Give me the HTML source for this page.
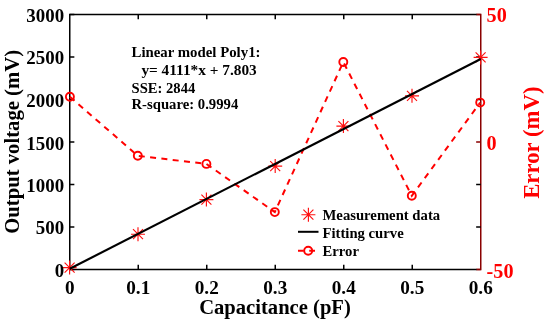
<!DOCTYPE html>
<html><head><meta charset="utf-8"><style>
html,body{margin:0;padding:0;background:#fff;}
body{width:550px;height:328px;overflow:hidden;}
svg{display:block;}
</style></head><body>
<svg width="550" height="328" viewBox="0 0 550 328">
<rect width="550" height="328" fill="#fff"/>
<path d="M480.75,270.15V13.85" stroke="#8a0000" stroke-width="1.5" fill="none"/>
<path d="M138.25,269.40V264.80M138.25,14.60V19.20M206.75,269.40V264.80M206.75,14.60V19.20M275.25,269.40V264.80M275.25,14.60V19.20M343.75,269.40V264.80M343.75,14.60V19.20M412.25,269.40V264.80M412.25,14.60V19.20M69.75,269.40H74.35M69.75,226.93H74.35M480.75,226.93H476.15M69.75,184.47H74.35M480.75,184.47H476.15M69.75,142.00H74.35M69.75,99.53H74.35M480.75,99.53H476.15M69.75,57.07H74.35M480.75,57.07H476.15M69.75,14.60H74.35" stroke="#000" stroke-width="1.5" fill="none"/>
<path d="M480.75,269.40H476.15M480.75,142.00H476.15M480.75,14.60H476.15" stroke="#8a0000" stroke-width="1.5" fill="none"/>
<path d="M476.75,14.60H69.75V269.40H476.75" stroke="#000" stroke-width="1.5" fill="none"/>
<path d="M476.75,14.60H480.00M476.75,269.40H480.00" stroke="#8a0000" stroke-width="1.5" fill="none"/>
<polyline points="69.90,96.80 137.80,155.80 206.40,163.90 274.80,212.10 343.30,62.00 411.80,195.80 480.20,102.60" fill="none" stroke="#ff0000" stroke-width="2" stroke-dasharray="6 5.37" stroke-dashoffset="0"/>
<circle cx="69.90" cy="96.80" r="4.0" fill="none" stroke="#ff0000" stroke-width="1.9"/>
<circle cx="137.80" cy="155.80" r="4.0" fill="none" stroke="#ff0000" stroke-width="1.9"/>
<circle cx="206.40" cy="163.90" r="4.0" fill="none" stroke="#ff0000" stroke-width="1.9"/>
<circle cx="274.80" cy="212.10" r="4.0" fill="none" stroke="#ff0000" stroke-width="1.9"/>
<circle cx="343.30" cy="62.00" r="4.0" fill="none" stroke="#ff0000" stroke-width="1.9"/>
<circle cx="411.80" cy="195.80" r="4.0" fill="none" stroke="#ff0000" stroke-width="1.9"/>
<circle cx="480.20" cy="102.60" r="4.0" fill="none" stroke="#ff0000" stroke-width="1.9"/>
<path d="M62.60,267.60H76.60M69.60,260.60V274.60M64.60,262.60L74.60,272.60M64.60,272.60L74.60,262.60M131.00,234.20H145.00M138.00,227.20V241.20M133.00,229.20L143.00,239.20M133.00,239.20L143.00,229.20M199.40,199.60H213.40M206.40,192.60V206.60M201.40,194.60L211.40,204.60M201.40,204.60L211.40,194.60M268.20,166.10H282.20M275.20,159.10V173.10M270.20,161.10L280.20,171.10M270.20,171.10L280.20,161.10M336.40,126.10H350.40M343.40,119.10V133.10M338.40,121.10L348.40,131.10M338.40,131.10L348.40,121.10M405.00,95.80H419.00M412.00,88.80V102.80M407.00,90.80L417.00,100.80M407.00,100.80L417.00,90.80M473.60,57.40H487.60M480.60,50.40V64.40M475.60,52.40L485.60,62.40M475.60,62.40L485.60,52.40" stroke="#ff1010" stroke-width="1.15" fill="none"/>
<line x1="69.75" y1="268.74" x2="480.75" y2="58.94" stroke="#000" stroke-width="2.15"/>
<text transform="translate(64.1,21.55) scale(0.96,1)" font-family="'Liberation Serif', 'Times New Roman', serif" font-weight="bold" font-size="19.7" text-anchor="end">3000</text>
<text transform="translate(64.1,64.35) scale(0.96,1)" font-family="'Liberation Serif', 'Times New Roman', serif" font-weight="bold" font-size="19.7" text-anchor="end">2500</text>
<text transform="translate(64.1,106.75) scale(0.96,1)" font-family="'Liberation Serif', 'Times New Roman', serif" font-weight="bold" font-size="19.7" text-anchor="end">2000</text>
<text transform="translate(64.1,149.55) scale(0.96,1)" font-family="'Liberation Serif', 'Times New Roman', serif" font-weight="bold" font-size="19.7" text-anchor="end">1500</text>
<text transform="translate(64.1,191.95) scale(0.96,1)" font-family="'Liberation Serif', 'Times New Roman', serif" font-weight="bold" font-size="19.7" text-anchor="end">1000</text>
<text transform="translate(64.1,234.35) scale(0.96,1)" font-family="'Liberation Serif', 'Times New Roman', serif" font-weight="bold" font-size="19.7" text-anchor="end">500</text>
<text transform="translate(64.1,276.75) scale(0.96,1)" font-family="'Liberation Serif', 'Times New Roman', serif" font-weight="bold" font-size="19.7" text-anchor="end">0</text>
<text transform="translate(69.75,294.3) scale(0.97,1)" font-family="'Liberation Serif', 'Times New Roman', serif" font-weight="bold" font-size="19.8" text-anchor="middle">0</text>
<text transform="translate(138.25,294.3) scale(0.97,1)" font-family="'Liberation Serif', 'Times New Roman', serif" font-weight="bold" font-size="19.8" text-anchor="middle">0.1</text>
<text transform="translate(206.75,294.3) scale(0.97,1)" font-family="'Liberation Serif', 'Times New Roman', serif" font-weight="bold" font-size="19.8" text-anchor="middle">0.2</text>
<text transform="translate(275.25,294.3) scale(0.97,1)" font-family="'Liberation Serif', 'Times New Roman', serif" font-weight="bold" font-size="19.8" text-anchor="middle">0.3</text>
<text transform="translate(343.75,294.3) scale(0.97,1)" font-family="'Liberation Serif', 'Times New Roman', serif" font-weight="bold" font-size="19.8" text-anchor="middle">0.4</text>
<text transform="translate(412.25,294.3) scale(0.97,1)" font-family="'Liberation Serif', 'Times New Roman', serif" font-weight="bold" font-size="19.8" text-anchor="middle">0.5</text>
<text transform="translate(480.75,294.3) scale(0.97,1)" font-family="'Liberation Serif', 'Times New Roman', serif" font-weight="bold" font-size="19.8" text-anchor="middle">0.6</text>
<text transform="translate(486.6,22.15) scale(0.98,1)" font-family="'Liberation Serif', 'Times New Roman', serif" font-weight="bold" font-size="20.6" fill="#ff0000">50</text>
<text transform="translate(486.6,149.75) scale(0.98,1)" font-family="'Liberation Serif', 'Times New Roman', serif" font-weight="bold" font-size="20.6" fill="#ff0000">0</text>
<text transform="translate(486.6,277.95) scale(0.98,1)" font-family="'Liberation Serif', 'Times New Roman', serif" font-weight="bold" font-size="20.6" fill="#ff0000">-50</text>
<text x="275" y="314.3" font-family="'Liberation Serif', 'Times New Roman', serif" font-weight="bold" font-size="20.6" text-anchor="middle">Capacitance (pF)</text>
<text transform="translate(18.9,141.9) rotate(-90)" font-family="'Liberation Serif', 'Times New Roman', serif" font-weight="bold" font-size="20.7" text-anchor="middle">Output voltage (mV)</text>
<text transform="translate(538.8,142.6) rotate(-90)" font-family="'Liberation Serif', 'Times New Roman', serif" font-weight="bold" font-size="22.8" text-anchor="middle" fill="#ff0000">Error (mV)</text>
<text x="131.5" y="56.8" font-family="'Liberation Serif', 'Times New Roman', serif" font-weight="bold" font-size="15" textLength="129.0" lengthAdjust="spacingAndGlyphs">Linear model Poly1:</text>
<text x="141.4" y="74.7" font-family="'Liberation Serif', 'Times New Roman', serif" font-weight="bold" font-size="15" textLength="115.4" lengthAdjust="spacingAndGlyphs">y= 4111*x + 7.803</text>
<text x="131.5" y="92.5" font-family="'Liberation Serif', 'Times New Roman', serif" font-weight="bold" font-size="15" textLength="63.8" lengthAdjust="spacingAndGlyphs">SSE: 2844</text>
<text x="131.5" y="109.0" font-family="'Liberation Serif', 'Times New Roman', serif" font-weight="bold" font-size="15" textLength="106.8" lengthAdjust="spacingAndGlyphs">R-square: 0.9994</text>
<path d="M301.40,214.70H315.40M308.40,207.70V221.70M303.40,209.70L313.40,219.70M303.40,219.70L313.40,209.70" stroke="#ff1010" stroke-width="1.15" fill="none"/>
<line x1="298" y1="231.8" x2="318.5" y2="231.8" stroke="#000" stroke-width="2"/>
<line x1="298" y1="250.7" x2="315" y2="250.7" stroke="#ff0000" stroke-width="2" stroke-dasharray="5.8 5.4"/>
<circle cx="308.2" cy="250.7" r="4.0" fill="none" stroke="#ff0000" stroke-width="1.9"/>
<text x="322.5" y="219.90" font-family="'Liberation Serif', 'Times New Roman', serif" font-weight="bold" font-size="14.7">Measurement data</text>
<text x="322.5" y="237.90" font-family="'Liberation Serif', 'Times New Roman', serif" font-weight="bold" font-size="14.7">Fitting curve</text>
<text x="322.5" y="255.90" font-family="'Liberation Serif', 'Times New Roman', serif" font-weight="bold" font-size="14.7">Error</text>
</svg>
</body></html>
